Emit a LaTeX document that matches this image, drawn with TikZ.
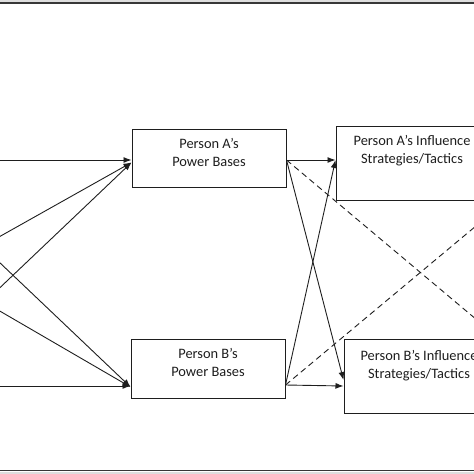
\documentclass[tikz,border=0pt]{standalone}
\usepackage{fontspec}
\setmainfont{Carlito}
\usetikzlibrary{positioning, arrows.meta, calc}
\definecolor{frameGray}{RGB}{55, 55, 55}
\definecolor{shadeGray}{RGB}{222, 222, 222}
\definecolor{lineGray}{RGB}{30, 30, 30}

\begin{document}
\begin{tikzpicture}[
    x=1pt, y=-1pt,
    font=\fontsize{14.4}{18.5}\selectfont,
    >={Latex[length=8pt, width=6pt]},
    box/.style={
        draw=lineGray,
        fill=white,
        rectangle,
        line width=1pt,
        inner sep=0pt
    },
    boxtext/.style={
        align=center,
        inner sep=0pt,
        text=lineGray
    },
    arrow/.style={
        draw=lineGray,
        ->,
        line width=0.9pt
    },
    dashline/.style={
        draw=lineGray,
        dash pattern=on 6pt off 4pt,
        line width=0.9pt
    }
]
\useasboundingbox (0,0) rectangle (474,474);
\clip (0,0) rectangle (474,474);

% frame of the page
\fill[shadeGray] (0,0) rectangle (474,1.5);
\fill[shadeGray] (0,471.5) rectangle (474,474);
\draw[frameGray, line width=1.5pt] (-5,2.8) -- (480,2.8);
\draw[frameGray, line width=1.5pt] (-5,470.6) -- (480,470.6);

% power bases
\node[box, minimum width=154pt, minimum height=58pt] (apow) at (209,158) {};
\node[boxtext, below=9.5pt of apow.north] (apowtxt) {Person A’s\\Power Bases};
\node[box, minimum width=154pt, minimum height=59pt] (bpow) at (208,368.5) {};
\node[boxtext, below=9.5pt of bpow.north] (bpowtxt) {Person B’s\\Power Bases};

% influence strategies
\node[box, minimum width=170pt, minimum height=74pt] (ainf) at (421,163) {};
\node[boxtext, below=9.5pt of ainf.north, xshift=-9pt] (ainftxt) {Person A’s Influence\\Strategies/Tactics};
\node[box, minimum width=170pt, minimum height=74pt] (binf) at (429,376) {};
\node[boxtext, below=11.5pt of binf.north, xshift=-10pt] (binftxt) {Person B’s Influence\\Strategies/Tactics};

% inputs from the left
\coordinate (in1) at (-2,160);
\coordinate (in2) at (-2,237.5);
\coordinate (in3) at (-2,261);
\coordinate (in4) at (-2,289.5);
\coordinate (in5) at (-2,310);
\coordinate (in6) at (-2,386);

\draw[arrow] (in1) -- ([yshift=-2pt]apow.west);
\draw[arrow] (in2) -- ([yshift=-4.5pt]apow.west);
\draw[arrow] (in4) -- ([yshift=-4.5pt]apow.west);
\draw[arrow] (in3) -- ([yshift=-18.5pt]bpow.west);
\draw[arrow] (in5) -- ([yshift=-18.5pt]bpow.west);
\draw[arrow] (in6) -- ([yshift=-17.5pt]bpow.west);

% power bases to strategies
\draw[arrow] ([yshift=-2pt]apow.east) -- ([yshift=3pt]ainf.west);
\draw[arrow] ([yshift=-2pt]apow.east) -- ([yshift=-4pt]binf.west);
\draw[arrow] ([yshift=-16.5pt]bpow.east) -- ([yshift=3pt]ainf.west);
\draw[arrow] ([yshift=-16.5pt]bpow.east) -- ([yshift=-10pt]binf.west);

\draw[dashline] ([yshift=-2pt]apow.east) -- ([xshift=70pt]binf.north);
\draw[dashline] ([yshift=-16.5pt]bpow.east) -- (ainf.south east);

\end{tikzpicture}
\end{document}
